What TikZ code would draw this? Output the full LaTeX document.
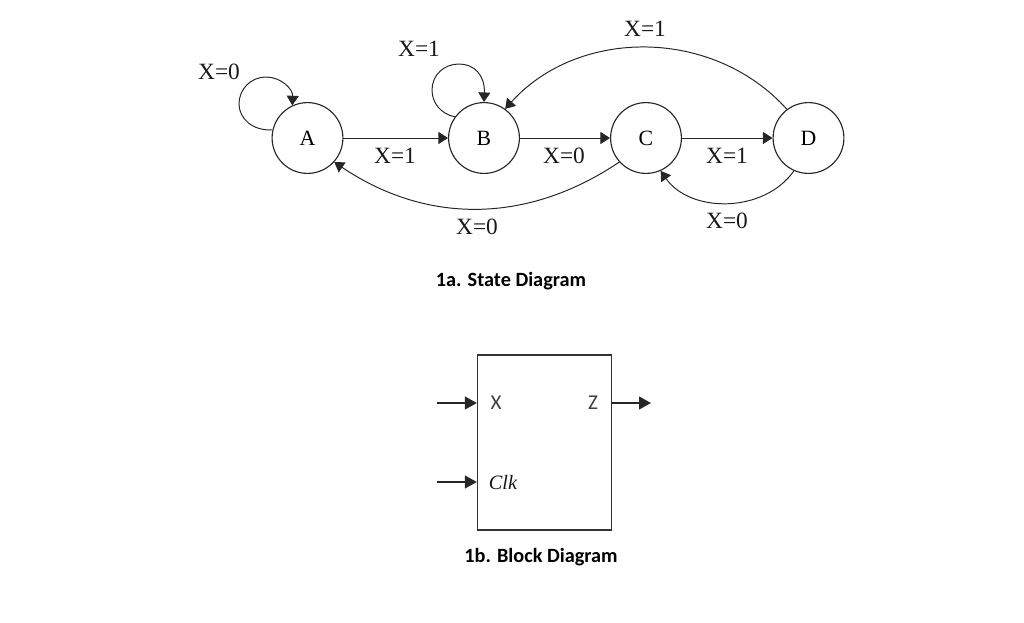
\documentclass[tikz,border=0pt]{standalone}
\usepackage{fontspec}
\setmainfont{Liberation Serif}
\newfontfamily\capfont{Carlito}
\usetikzlibrary{positioning,arrows}
\usetikzlibrary{arrows.meta}
\begin{document}
\begin{tikzpicture}[x=0.025cm,y=-0.025cm]
	\useasboundingbox (0,0) rectangle (1024,623);
	\tikzstyle{statenode}=[draw=black!85, line width=0.8pt, circle, font=\fontsize{15.5}{18}\selectfont, minimum size=1.77cm, inner sep=0pt]
	\tikzstyle{translabel}=[font=\fontsize{16.6}{19}\selectfont, inner sep=0pt, text=black!90]
	\tikzstyle{caption}=[font=\capfont\bfseries\fontsize{14.4}{17}\selectfont, inner sep=0pt]
	\tikzstyle{pinlabel}=[font=\capfont\fontsize{15}{18}\selectfont, inner sep=0pt, text=black!75]
	\tikzstyle{trans}=[draw=black!85, line width=0.7pt, -{Triangle[length=0.24cm,width=0.3cm]}]
	\tikzstyle{pin}=[draw=black!85, line width=1.3pt, -{Triangle[length=0.3cm,width=0.32cm]}]
	\draw (307.5,138) node (p1) [statenode] {A};
	\draw (484,138) node (p2) [statenode] {B};
	\draw (646,138) node (p3) [statenode] {C};
	\draw (808.5,138) node (p4) [statenode] {D};
	\draw [trans] (p1) to (p2);
	\draw [trans] (p2) to (p3);
	\draw [trans] (p3) to (p4);
	\draw [trans] (p1.167) .. controls (252,131) and (239,118) .. (239,104) .. controls (239,89) and (251,77) .. (266,77) .. controls (281,77) and (293,89) .. (p1.115);
	\draw [trans] (p2.144) .. controls (441,114) and (432,103) .. (432,90) .. controls (432,75) and (444,64) .. (459,64) .. controls (474,64) and (485,75) .. (p2.90);
	\draw [trans] (p4.127) to [bend right=48] (p2.54);
	\draw [trans] (p3.222) to [bend left=34] (p1.318);
	\draw [trans] (p4.246) to [bend left=55] (p3.294);
	\node (l1) [translabel] at (219,72) {X=0};
	\node (l2) [translabel] at (419,49) {X=1};
	\node (l3) [translabel] at (395,156) {X=1};
	\node (l4) [translabel] at (564,156) {X=0};
	\node (l5) [translabel] at (645,29) {X=1};
	\node (l6) [translabel] at (727,156) {X=1};
	\node (l7) [translabel] at (477,227) {X=0};
	\node (l8) [translabel] at (727,221) {X=0};
	\node (cap1) [caption] at (511,281.5) {1a. State Diagram};
	% block
	\node (block) [draw=black!80, line width=0.9pt, minimum width=3.35cm, minimum height=4.375cm, inner sep=0pt] at (544.5,442.5) {};
	\coordinate (xin) at (437,403);
	\coordinate (clkin) at (437,482);
	\coordinate (zout) at (651,403);
	\draw [pin] (xin) to (xin -| block.west);
	\draw [pin] (clkin) to (clkin -| block.west);
	\draw [pin] (zout -| block.east) to (zout);
	\node (xlabel) [pinlabel] at (496,403) {X};
	\node (zlabel) [pinlabel] at (593,403) {Z};
	\node (clklabel) [translabel, font=\itshape\fontsize{14.5}{17}\selectfont] at (503,483) {Clk};
	\node (cap2) [caption] at (541,557.5) {1b. Block Diagram};
\end{tikzpicture}
\end{document}
